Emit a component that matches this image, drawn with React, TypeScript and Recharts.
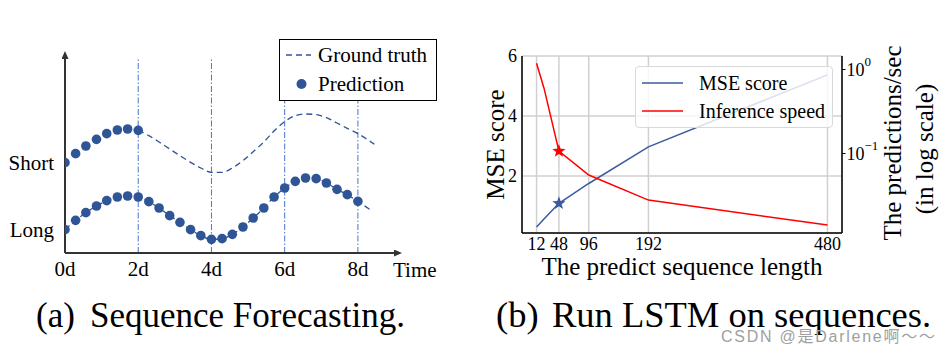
import {
  ComposedChart,
  Line,
  Scatter,
  XAxis,
  YAxis,
  CartesianGrid,
  ReferenceLine,
  Legend,
} from "recharts";

const serif = "'Liberation Serif', 'Times New Roman', serif";
const navy = "#2f5597";
const splitBlue = "#4a74cf";
const mseBlue = "#3b5b9c";
const speedRed = "#ff0000";

// (a) sequence forecasting
const days = [0, 0.29, 0.57, 0.86, 1.14, 1.43, 1.71, 2, 2.29, 2.57, 2.86, 3.14, 3.43, 3.71, 4, 4.29, 4.57, 4.86, 5.14, 5.43, 5.71, 6, 6.29, 6.57, 6.86, 7.14, 7.43, 7.71, 8];
const longPrediction = [0.7, 0.98, 1.21, 1.41, 1.57, 1.68, 1.71, 1.68, 1.54, 1.35, 1.12, 0.92, 0.7, 0.52, 0.41, 0.43, 0.56, 0.78, 1.05, 1.35, 1.68, 1.95, 2.15, 2.25, 2.23, 2.1, 1.91, 1.75, 1.55];
const shortPrediction = [2.71, 2.98, 3.21, 3.41, 3.58, 3.69, 3.72, 3.68];
const truthDays = [2, 2.29, 2.57, 2.86, 3.14, 3.43, 3.71, 4, 4.29, 4.57, 4.86, 5.14, 5.43, 5.71, 6, 6.29, 6.57, 6.86, 7.14, 7.43, 7.71, 8, 8.45];
const shortTruth = [3.68, 3.52, 3.33, 3.12, 2.92, 2.72, 2.55, 2.42, 2.42, 2.55, 2.77, 3.04, 3.33, 3.66, 3.94, 4.12, 4.17, 4.15, 4.06, 3.9, 3.74, 3.58, 3.26];
const longTailDay = 8.37;
const longTailValue = 1.27;
const dayTicks = [0, 2, 4, 6, 8];
const splitDays = [2, 4, 6, 8];
const levelTicks = [0.7, 2.7];
const levelLabels = ["Long", "Short"];

// (b) LSTM on sequences
const seqLengths = [12, 24, 48, 96, 192, 480];
const mseScore = [0.3, 0.57, 1.09, 1.75, 2.97, 5.37];
const inferenceSpeed = [1.19, 0.6, 0.107, 0.0555, 0.0279, 0.0141];
const lengthTicks = [12, 48, 96, 192, 480];
const mseTicks = [2, 4, 6];
const speedTicks = [0.1, 1];
const starLength = 48;
const lstmLegendOrder = ["MSE score", "Inference speed"];

const captionA = ["(a)", "Sequence Forecasting."];
const captionB = ["(b)", "Run LSTM on sequences."];
const watermark = "CSDN @是Darlene啊～～";

function predictionDot(props: any) {
  return <circle cx={props.cx} cy={props.cy} r={4.8} fill={navy} />;
}

function starShape(color: string) {
  return (props: any) => {
    const pts: string[] = [];
    for (let i = 0; i < 10; i++) {
      const r = i % 2 === 0 ? 7 : 2.9;
      const a = -Math.PI / 2 + (i * Math.PI) / 5;
      pts.push(`${props.cx + r * Math.cos(a)},${props.cy + r * Math.sin(a)}`);
    }
    return <polygon points={pts.join(" ")} fill={color} />;
  };
}

function TimeLabel(props: any) {
  const vb = props.viewBox;
  return (
    <text x={vb.x + vb.width - 7} y={vb.y + 24} fontFamily={serif} fontSize={21} fill="#000">
      Time
    </text>
  );
}

function ForecastLegend(props: any) {
  const items = (props.payload || [])
    .filter((p: any) => p.type !== "none")
    .sort((a: any, b: any) => (a.type === "line" ? -1 : 0) - (b.type === "line" ? -1 : 0));
  return (
    <div
      style={{
        position: "relative",
        width: 158,
        height: 62,
        boxSizing: "border-box",
        border: "1.5px solid #000",
        background: "#fff",
        fontFamily: serif,
        fontSize: 21,
        color: "#000",
      }}
    >
      {items.map((item: any, i: number) => (
        <div
          key={item.value}
          style={{ position: "absolute", left: 0, top: 1 + i * 28.5, height: 28, display: "flex", alignItems: "center" }}
        >
          <svg width={38} height={28}>
            {item.type === "line" ? (
              <line x1={6} x2={31} y1={14} y2={14} stroke={navy} strokeWidth={1.4} strokeDasharray="6 4" />
            ) : (
              <circle cx={21.5} cy={14} r={5} fill={navy} />
            )}
          </svg>
          <span style={{ lineHeight: "28px", whiteSpace: "nowrap" }}>{item.value}</span>
        </div>
      ))}
    </div>
  );
}

function ForecastChart() {
  const longData = days.map((day, i) => ({ day, v: longPrediction[i] }));
  const shortData = shortPrediction.map((v, i) => ({ day: days[i], v }));
  const shortTruthData = truthDays.map((day, i) => ({ day, v: shortTruth[i] }));
  const longTruthData = [...longData, { day: longTailDay, v: longTailValue }];

  return (
    <ComposedChart width={450} height={290} margin={{ top: 53, right: 50, bottom: 7, left: 5 }}>
      <XAxis
        type="number"
        dataKey="day"
        domain={[0, 9.15]}
        allowDataOverflow
        ticks={dayTicks}
        interval={0}
        tickFormatter={(v) => `${v}d`}
        height={30}
        tickLine={false}
        tickSize={6}
        tickMargin={2}
        axisLine={{ stroke: "#333", strokeWidth: 2, markerEnd: "url(#axis-arrow)" }}
        tick={{ fill: "#000", fontSize: 21, fontFamily: serif }}
        label={TimeLabel}
      />
      <YAxis
        type="number"
        dataKey="v"
        domain={[0, 6]}
        allowDataOverflow
        ticks={levelTicks}
        interval={0}
        tickFormatter={(v) => levelLabels[levelTicks.indexOf(v)]}
        width={60}
        tickLine={false}
        tickSize={6}
        tickMargin={5}
        axisLine={{ stroke: "#333", strokeWidth: 2, markerStart: "url(#axis-arrow)" }}
        tick={{ fill: "#000", fontSize: 21, fontFamily: serif }}
      />
      {splitDays.map((d) => (
        <ReferenceLine
          key={d}
          segment={[
            { x: d, y: 0 },
            { x: d, y: 5.85 },
          ]}
          stroke={splitBlue}
          strokeWidth={1}
          strokeDasharray="6 2 1.5 2"
        />
      ))}
      <Line
        data={longTruthData}
        dataKey="v"
        type="monotone"
        stroke={navy}
        strokeWidth={1.3}
        strokeDasharray="6 4"
        dot={false}
        legendType="none"
        isAnimationActive={false}
      />
      <Line
        data={shortTruthData}
        dataKey="v"
        name="Ground truth"
        type="monotone"
        stroke={navy}
        strokeWidth={1.3}
        strokeDasharray="6 4"
        dot={false}
        isAnimationActive={false}
      />
      <Scatter data={longData} name="Prediction" fill={navy} shape={predictionDot} isAnimationActive={false} />
      <Scatter data={shortData} fill={navy} shape={predictionDot} legendType="none" isAnimationActive={false} />
      <Legend
        content={ForecastLegend}
        layout="vertical"
        align="center"
        verticalAlign="middle"
        wrapperStyle={{ left: 279, top: 39 }}
      />
    </ComposedChart>
  );
}

function LengthLabel(props: any) {
  const vb = props.viewBox;
  return (
    <text x={vb.x + vb.width / 2} y={vb.y + 42} textAnchor="middle" fontFamily={serif} fontSize={25} fill="#000">
      The predict sequence length
    </text>
  );
}

function MseLabel(props: any) {
  const vb = props.viewBox;
  const cx = vb.x + 20;
  const cy = vb.y + vb.height / 2;
  return (
    <text
      x={cx}
      y={cy}
      transform={`rotate(-90, ${cx}, ${cy})`}
      textAnchor="middle"
      dominantBaseline="central"
      fontFamily={serif}
      fontSize={25}
      fill="#000"
    >
      MSE score
    </text>
  );
}

function SpeedLabel(props: any) {
  const vb = props.viewBox;
  const cy = vb.y + vb.height / 2;
  const x1 = vb.x + 50;
  const x2 = vb.x + 82;
  return (
    <g fontFamily={serif} fontSize={25} fill="#000">
      <text x={x1} y={cy - 1.5} transform={`rotate(-90, ${x1}, ${cy - 1.5})`} textAnchor="middle" dominantBaseline="central">
        The predictions/sec
      </text>
      <text x={x2} y={cy + 4.5} transform={`rotate(-90, ${x2}, ${cy + 4.5})`} textAnchor="middle" dominantBaseline="central">
        (in log scale)
      </text>
    </g>
  );
}

function PowerTick(props: any) {
  const exp = Math.round(Math.log10(props.payload.value));
  return (
    <text x={props.x} y={props.y} fontFamily={serif} fontSize={18} fill="#000" dominantBaseline="central">
      10
      <tspan dy={-9} fontSize={13}>
        {exp < 0 ? `\u2212${-exp}` : `${exp}`}
      </tspan>
    </text>
  );
}

function LstmLegend(props: any) {
  const items = (props.payload || [])
    .filter((p: any) => p.type !== "none")
    .sort((a: any, b: any) => lstmLegendOrder.indexOf(a.value) - lstmLegendOrder.indexOf(b.value));
  return (
    <div
      style={{
        position: "relative",
        width: 198,
        height: 62,
        boxSizing: "border-box",
        border: "1px solid #d9d9d9",
        borderRadius: 4,
        background: "rgba(255,255,255,0.8)",
        fontFamily: serif,
        fontSize: 20,
        color: "#000",
      }}
    >
      {items.map((item: any, i: number) => (
        <div
          key={item.value}
          style={{ position: "absolute", left: 0, top: 2 + i * 27.7, height: 28, display: "flex", alignItems: "center" }}
        >
          <svg width={63} height={28}>
            <line x1={6} x2={47} y1={14} y2={14} stroke={item.color} strokeWidth={1.5} />
          </svg>
          <span style={{ lineHeight: "28px", whiteSpace: "nowrap" }}>{item.value}</span>
        </div>
      ))}
    </div>
  );
}

function LstmChart() {
  const rows = seqLengths.map((len, i) => ({ len, mse: mseScore[i], speed: inferenceSpeed[i] }));
  const starRows = rows.filter((r) => r.len === starLength);

  return (
    <ComposedChart width={480} height={290} data={rows} margin={{ top: 56, right: 8, bottom: 7, left: 5 }}>
      <CartesianGrid yAxisId="left" stroke="#d0d0d0" strokeWidth={1.5} />
      <XAxis
        type="number"
        dataKey="len"
        domain={[-11.4, 503.4]}
        allowDataOverflow
        ticks={lengthTicks}
        interval={0}
        height={50}
        tickLine={false}
        tickSize={3}
        tickMargin={1}
        axisLine={{ stroke: "#000", strokeWidth: 1.5 }}
        tick={{ fill: "#000", fontSize: 18, fontFamily: serif }}
        label={LengthLabel}
      />
      <XAxis
        xAxisId="top"
        orientation="top"
        type="number"
        dataKey="len"
        domain={[-11.4, 503.4]}
        allowDataOverflow
        height={0}
        tick={false}
        tickLine={false}
        axisLine={{ stroke: "#000", strokeWidth: 1.5 }}
      />
      <YAxis
        yAxisId="left"
        type="number"
        dataKey="mse"
        domain={[0.1, 6]}
        allowDataOverflow
        ticks={mseTicks}
        interval={0}
        width={47}
        tickLine={false}
        tickSize={4}
        tickMargin={1}
        axisLine={{ stroke: "#000", strokeWidth: 1.5 }}
        tick={{ fill: "#000", fontSize: 18, fontFamily: serif }}
        label={MseLabel}
      />
      <YAxis
        yAxisId="right"
        orientation="right"
        type="number"
        dataKey="speed"
        scale="log"
        domain={[0.01132, 1.449]}
        allowDataOverflow
        ticks={speedTicks}
        interval={0}
        width={100}
        tickSize={3.5}
        tickMargin={1}
        tickLine={{ stroke: "#000" }}
        axisLine={{ stroke: "#000", strokeWidth: 1.5 }}
        tick={PowerTick}
        label={SpeedLabel}
      />
      <Line
        yAxisId="left"
        dataKey="mse"
        name="MSE score"
        stroke={mseBlue}
        strokeWidth={1.5}
        dot={false}
        isAnimationActive={false}
      />
      <Line
        yAxisId="right"
        dataKey="speed"
        name="Inference speed"
        stroke={speedRed}
        strokeWidth={1.5}
        dot={false}
        isAnimationActive={false}
      />
      <Scatter yAxisId="left" data={starRows} shape={starShape(mseBlue)} legendType="none" isAnimationActive={false} />
      <Scatter yAxisId="right" data={starRows} shape={starShape(speedRed)} legendType="none" isAnimationActive={false} />
      <Legend
        content={LstmLegend}
        layout="vertical"
        align="center"
        verticalAlign="middle"
        wrapperStyle={{ left: 165, top: 66 }}
      />
    </ComposedChart>
  );
}

export default function App() {
  return (
    <div
      style={{
        position: "absolute",
        left: 0,
        top: 0,
        width: 950,
        height: 356,
        background: "#fff",
        overflow: "hidden",
      }}
    >
      <svg width={0} height={0} style={{ position: "absolute" }}>
        <defs>
          <marker
            id="axis-arrow"
            viewBox="0 0 8 7"
            refX={6}
            refY={3.5}
            markerWidth={8}
            markerHeight={7}
            markerUnits="userSpaceOnUse"
            orient="auto-start-reverse"
          >
            <path d="M0,0 L8,3.5 L0,7 z" fill="#333" />
          </marker>
        </defs>
      </svg>
      <div style={{ position: "absolute", left: 0, top: 0 }}>
        <ForecastChart />
      </div>
      <div style={{ position: "absolute", left: 470, top: 0 }}>
        <LstmChart />
      </div>
      <svg width={950} height={356} style={{ position: "absolute", left: 0, top: 0, pointerEvents: "none" }}>
        <text x={36} y={327} fontFamily={serif} fontSize={35} fill="#000">
          {captionA[0]}
          <tspan x={90}>{captionA[1]}</tspan>
        </text>
        <text x={496} y={327} fontFamily={serif} fontSize={36.5} fill="#000">
          {captionB[0]}
          <tspan x={552}>{captionB[1]}</tspan>
        </text>
        <text
          x={721}
          y={342}
          fontFamily="'Liberation Sans', Arial, 'Noto Sans CJK SC', sans-serif"
          fontSize={16}
          fill="#a0a0a0"
          textLength={214}
          lengthAdjust="spacing"
        >
          {watermark}
        </text>
      </svg>
    </div>
  );
}
